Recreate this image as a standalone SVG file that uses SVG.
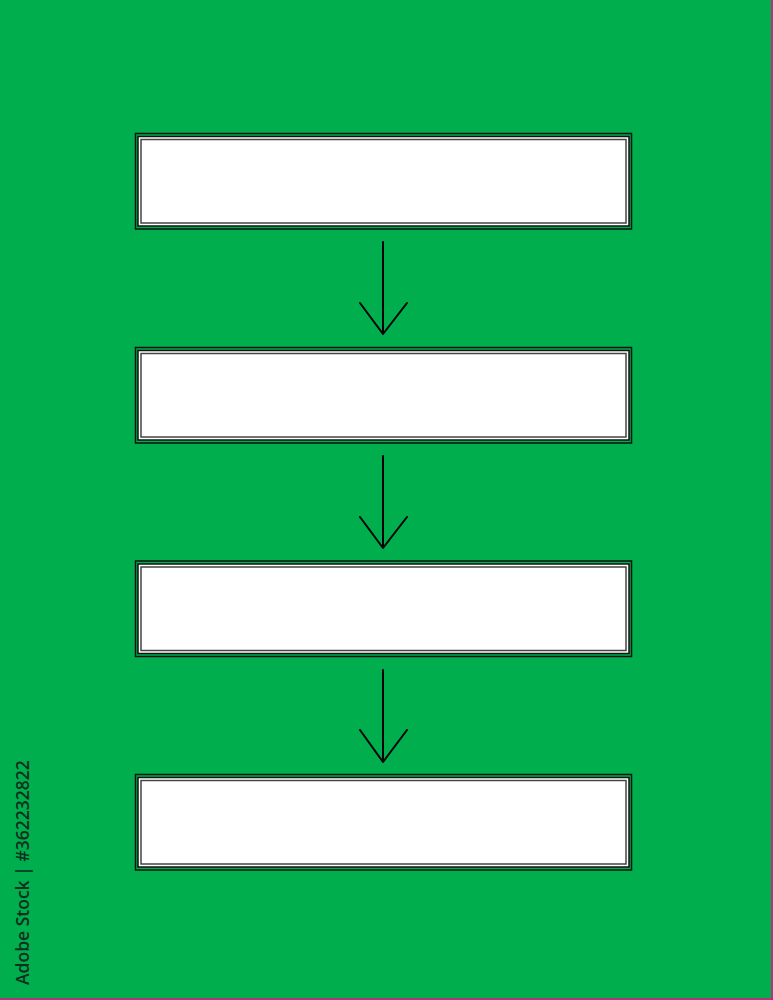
<svg xmlns="http://www.w3.org/2000/svg" width="773" height="1000" viewBox="0 0 773 1000">
<defs>
<style>
.o{fill:none;stroke:#111;stroke-width:1.5}
.m{fill:#fff;stroke:#111;stroke-width:1.5}
.i{fill:none;stroke:#444;stroke-width:1.5}
.a{fill:none;stroke:#000;stroke-width:2;stroke-linecap:round;stroke-linejoin:round}
</style>
</defs>
<rect x="0" y="0" width="773" height="1000" fill="#00AE4D"/>
<line x1="772" y1="0" x2="772" y2="1000" stroke="#E0128A" stroke-width="1.5"/>
<line x1="0" y1="999" x2="773" y2="999" stroke="#E0128A" stroke-width="1.5"/>
<g id="box1" transform="translate(0,0)">
<rect class="o" x="135.5" y="133.5" width="496" height="95.5"/>
<rect class="m" x="138" y="136.5" width="491" height="89.5"/>
<rect class="i" x="141" y="139.5" width="485" height="83.5"/>
</g>
<g id="box2" transform="translate(0,214)">
<rect class="o" x="135.5" y="133.5" width="496" height="95.5"/>
<rect class="m" x="138" y="136.5" width="491" height="89.5"/>
<rect class="i" x="141" y="139.5" width="485" height="83.5"/>
</g>
<g id="box3" transform="translate(0,427.5)">
<rect class="o" x="135.5" y="133.5" width="496" height="95.5"/>
<rect class="m" x="138" y="136.5" width="491" height="89.5"/>
<rect class="i" x="141" y="139.5" width="485" height="83.5"/>
</g>
<g id="box4" transform="translate(0,641)">
<rect class="o" x="135.5" y="133.5" width="496" height="95.5"/>
<rect class="m" x="138" y="136.5" width="491" height="89.5"/>
<rect class="i" x="141" y="139.5" width="485" height="83.5"/>
</g>
<g id="connectors">
<path class="a" d="M383 242V334M360 303L383 334L407 303"/>
<path class="a" d="M383 456V548M360 517L383 548L407 517"/>
<path class="a" d="M383 670V762M360 730L383 762L407 730"/>
</g>
<text transform="translate(29,985) rotate(-90)" font-family="'Open Sans','DejaVu Sans',sans-serif" font-size="17.5" font-weight="600" fill="#10301f">Adobe Stock | #362232822</text>
</svg>
